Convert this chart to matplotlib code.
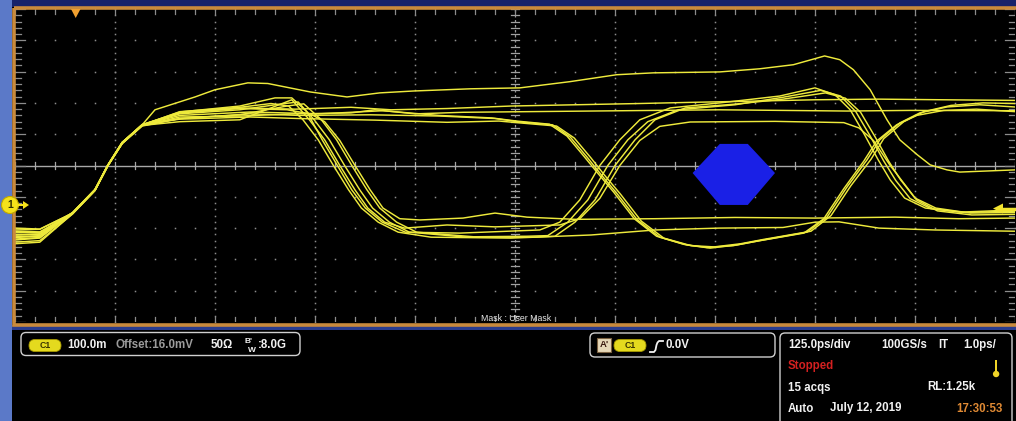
import matplotlib
matplotlib.use("Agg")
import matplotlib.pyplot as plt
from matplotlib.patches import Rectangle, FancyBboxPatch, Circle, Polygon
import numpy as np

# ---------------- data (time in ps, voltage in mV) ----------------
t_top = [0, 31, 72, 100, 116, 134, 159, 175, 225, 250, 291, 316, 369, 415, 456, 498, 569, 631, 694, 752, 798, 881, 931, 973, 1012, 1031, 1048, 1069, 1090, 1106, 1128, 1144, 1165, 1181, 1250]
v_top = [-200, -203, -152, -78, 0, 74, 130, 178, 219, 242, 264, 262, 235, 219, 232, 238, 245, 248, 268, 290, 296, 299, 309, 322, 350, 338, 306, 242, 146, 82, 34, 2, -14, -21, -14]

t_g1a = [0, 31, 72, 100, 116, 134, 159, 206, 281, 325, 346, 365, 384, 403, 421, 438, 459, 488, 556, 656, 681, 706, 731, 756, 781, 819, 881, 956, 1000, 1025, 1044, 1062, 1079, 1094, 1112, 1138, 1181, 1250]
v_g1a = [-238, -232, -152, -78, 0, 72, 130, 171, 190, 216, 216, 171, 82, 0, -78, -136, -181, -213, -216, -206, -181, -110, 0, 82, 146, 184, 200, 222, 248, 226, 178, 98, 18, -46, -104, -136, -149, -142]

t_g1b = [0, 31, 72, 100, 116, 134, 159, 206, 281, 331, 354, 374, 393, 412, 431, 447, 468, 493, 560, 640, 666, 691, 716, 741, 766, 791, 829, 900, 960, 1007, 1032, 1051, 1069, 1086, 1101, 1119, 1145, 1188, 1250]
v_g1b = [-222, -218, -150, -76, 2, 74, 128, 165, 178, 196, 203, 146, 82, 0, -78, -136, -181, -213, -228, -226, -224, -181, -110, 0, 82, 140, 178, 194, 218, 240, 222, 172, 94, 14, -48, -106, -138, -150, -146]

t_g1c = [0, 31, 72, 100, 116, 134, 159, 206, 281, 340, 361, 383, 402, 421, 440, 456, 477, 502, 580, 650, 675, 700, 725, 750, 775, 800, 838, 900, 960, 1013, 1038, 1057, 1075, 1092, 1107, 1125, 1151, 1194, 1250]
v_g1c = [-210, -212, -153, -80, -2, 70, 126, 150, 162, 190, 197, 146, 82, 0, -78, -136, -181, -213, -229, -229, -226, -181, -110, 0, 82, 146, 184, 196, 212, 232, 215, 170, 92, 14, -46, -104, -136, -152, -150]

t_g1f = [0, 31, 72, 100, 116, 134, 159, 206, 281, 326, 346, 368, 387, 406, 425, 441, 462, 487, 540, 600, 681, 706, 731, 756, 781, 806, 844, 950, 1036, 1055, 1073, 1094, 1109, 1127, 1153, 1196, 1250]
v_g1f = [-245, -240, -155, -80, 0, 70, 128, 140, 146, 190, 210, 146, 82, 0, -78, -136, -181, -200, -190, -196, -190, -170, -105, 0, 80, 125, 139, 141, 137, 120, 80, 0, -50, -110, -145, -158, -156]

t_g1d = [0, 31, 72, 100, 116, 134, 159, 206, 281, 340, 369, 387, 406, 425, 444, 460, 481, 506, 560, 600, 640, 700, 800, 900, 1000, 1100, 1180, 1250]
v_g1d = [-230, -226, -151, -77, 1, 73, 131, 168, 182, 178, 165, 140, 80, 0, -78, -136, -170, -174, -168, -152, -165, -172, -170, -166, -168, -165, -170, -168]

t_g1e = [0, 31, 72, 100, 116, 134, 159, 206, 281, 320, 342, 360, 379, 398, 417, 433, 454, 479, 520, 620, 720, 800, 880, 960, 1000, 1030, 1080, 1150, 1250]
v_g1e = [-250, -245, -154, -79, -1, 71, 129, 172, 186, 198, 190, 146, 82, 0, -78, -136, -181, -213, -229, -232, -222, -206, -200, -198, -181, -180, -200, -206, -210]

t_g2a = [0, 31, 72, 100, 116, 134, 159, 206, 294, 356, 444, 531, 600, 631, 672, 694, 715, 731, 752, 778, 806, 840, 869, 902, 931, 990, 1015, 1040, 1065, 1081, 1106, 1131, 1165, 1206, 1250]
v_g2a = [-222, -220, -152, -78, 0, 72, 128, 150, 165, 160, 162, 158, 150, 139, 130, 91, 27, -24, -88, -174, -229, -254, -264, -254, -240, -213, -165, -69, 18, 82, 136, 168, 187, 194, 187]

t_g2b = [0, 31, 72, 100, 116, 134, 159, 206, 294, 356, 450, 540, 605, 636, 677, 699, 720, 736, 757, 783, 811, 845, 874, 907, 936, 995, 1020, 1045, 1070, 1086, 1111, 1136, 1170, 1210, 1250]
v_g2b = [-215, -214, -151, -77, 1, 74, 131, 148, 155, 150, 145, 138, 142, 135, 126, 88, 24, -28, -92, -178, -232, -256, -260, -250, -236, -210, -160, -64, 20, 86, 140, 172, 192, 200, 198]

t_g2c = [0, 31, 72, 100, 116, 134, 159, 206, 294, 380, 460, 530, 596, 627, 668, 690, 711, 727, 748, 774, 802, 836, 865, 898, 927, 986, 1011, 1036, 1061, 1077, 1102, 1127, 1161, 1202, 1250]
v_g2c = [-235, -230, -153, -79, -1, 71, 129, 160, 171, 165, 175, 160, 152, 142, 132, 94, 30, -20, -84, -170, -226, -252, -262, -256, -242, -216, -170, -74, 14, 78, 130, 160, 176, 180, 172]

t_g3a = [0, 31, 72, 100, 116, 134, 159, 206, 281, 350, 420, 470, 540, 620, 700, 780, 850, 930, 1000, 1080, 1160, 1250]
v_g3a = [-206, -204, -152, -78, 0, 73, 130, 168, 184, 180, 186, 178, 182, 190, 194, 198, 202, 206, 210, 212, 210, 208]

t_g3b = [0, 31, 72, 100, 116, 134, 159, 206, 281, 350, 420, 450, 500, 560, 640, 720, 800, 880, 960, 1040, 1120, 1250]
v_g3b = [-228, -224, -152, -78, 0, 72, 128, 155, 158, 165, 168, 178, 165, 170, 172, 174, 176, 178, 176, 174, 176, 175]

traces = [(t_top, v_top), (t_g1a, v_g1a), (t_g1b, v_g1b), (t_g1c, v_g1c),
          (t_g1f, v_g1f), (t_g1d, v_g1d), (t_g1e, v_g1e), (t_g2a, v_g2a),
          (t_g2b, v_g2b), (t_g2c, v_g2c), (t_g3a, v_g3a), (t_g3b, v_g3b)]

mask_t = [847, 881, 916, 950, 916, 881]
mask_v = [-24, 69, 69, -24, -126, -126]

time_per_div = 125.0   # ps
volt_per_div = 100.0   # mV

# ---------------- figure ----------------
W, H = 1016, 421
fig = plt.figure(figsize=(W / 100, H / 100), dpi=100, facecolor="black")
FONT = "Liberation Sans"

bg = fig.add_axes([0, 0, 1, 1], zorder=0)
bg.set_xlim(0, W); bg.set_ylim(H, 0); bg.axis("off")
bg.add_patch(Rectangle((0, 0), W, H, fc="black", ec="none"))
bg.add_patch(Rectangle((0, 0), W, 7, fc="#17226a", ec="none"))
bg.add_patch(Rectangle((0, 0), 12, H, fc="#5b79c8", ec="none"))
bg.add_patch(Rectangle((12, 325), W, 5, fc="#2a3c8e", ec="none"))

# plot area: x 15..1015, y 9..322
px0, px1, py0, py1 = 15, 1015, 9, 322
ax = fig.add_axes([px0 / W, (H - py1) / H, (px1 - px0) / W, (py1 - py0) / H], zorder=1)
ax.set_facecolor("black")
ax.set_xlim(0, 10 * time_per_div)
ax.set_ylim(-5 * volt_per_div, 5 * volt_per_div)
for s in ax.spines.values():
    s.set_visible(False)
ax.set_xticks([]); ax.set_yticks([])

gcol = "#8c8c8c"
tmin, tmax = 0, 10 * time_per_div
vmin, vmax = -5 * volt_per_div, 5 * volt_per_div
minor_t = np.arange(tmin, tmax + 1, time_per_div / 5)
minor_v = np.arange(vmin, vmax + 1, volt_per_div / 5)

# dotted major grid
for k in range(1, 10):
    if k == 5:
        continue
    tx = k * time_per_div
    ax.plot(np.full_like(minor_v, tx), minor_v, ls="none", marker="s", ms=1.1, mew=0, color=gcol, zorder=1)
for k in range(-4, 5):
    if k == 0:
        continue
    vy = k * volt_per_div
    ax.plot(minor_t, np.full_like(minor_t, vy), ls="none", marker="s", ms=1.1, mew=0, color=gcol, zorder=1)

# center cross
ax.axhline(0, color="#a8a8a8", lw=1.0, zorder=1)
ax.plot([625, 625], [vmin, vmax], color="#9a9a9a", lw=0.9, ls=(0, (2, 2)), zorder=1)
for tx in minor_t:
    ax.plot([tx, tx], [-11, 11], color="#a8a8a8", lw=0.9, zorder=1)
for vy in minor_v:
    ax.plot([620, 630], [vy, vy], color="#a0a0a0", lw=0.9, zorder=1)

# edge ticks
for tx in minor_t:
    ax.plot([tx, tx], [vmax, vmax - 16], color=gcol, lw=0.9, zorder=1)
    ax.plot([tx, tx], [vmin, vmin + 16], color=gcol, lw=0.9, zorder=1)
for vy in minor_v:
    major = abs(vy / volt_per_div - round(vy / volt_per_div)) < 1e-6
    L = 13 if major else 8
    ax.plot([tmin, tmin + L], [vy, vy], color=gcol, lw=0.9, zorder=1)
    ax.plot([tmax, tmax - L], [vy, vy], color=gcol, lw=0.9, zorder=1)

# mask
ax.add_patch(Polygon(list(zip(mask_t, mask_v)), closed=True, fc="#1a20e6", ec="none", zorder=2))

# traces
for tt, vv in traces:
    ax.plot(tt, vv, color="#eeea3c", lw=1.05, zorder=3, solid_joinstyle="round")

# ---------------- overlay ----------------
ov = fig.add_axes([0, 0, 1, 1], zorder=3)
ov.set_xlim(0, W); ov.set_ylim(H, 0); ov.axis("off")
ov.patch.set_alpha(0)

# orange border
ov.add_patch(Rectangle((13.5, 7.5), W, 317, fill=False, ec="#c98a3c", lw=2.6))

# trigger position marker (top)
ov.add_patch(Polygon([(71, 9), (80.5, 9), (75.7, 18)], closed=True, fc="#f0a030", ec="none"))
# trigger level marker (right)
ov.add_patch(Polygon([(993, 208.5), (1003, 203.5), (1003, 213.5)], closed=True, fc="#f2e430", ec="none"))
ov.plot([1002, 1016], [208.5, 208.5], color="#f2e430", lw=2.5)
# channel ground marker (left)
ov.add_patch(Circle((10, 205), 8.5, fc="#f5e21a", ec="#c0a800", lw=0.8))
ov.text(10, 205.5, "1", ha="center", va="center", fontsize=7.5, fontweight="bold", color="#303000", family=FONT)
ov.plot([18.5, 24], [205, 205], color="#f5e21a", lw=1.5)
ov.add_patch(Polygon([(23, 201), (23, 209), (29, 205)], closed=True, fc="#f5e21a", ec="none"))

ov.text(516, 318.5, "Mask : User Mask", ha="center", va="center", fontsize=6.3, color="#e8e8e8", family=FONT)

# ---- bottom panel boxes ----
def rbox(x, y, w, h):
    ov.add_patch(FancyBboxPatch((x, y), w, h, boxstyle="round,pad=0,rounding_size=5",
                                fc="black", ec="#d0d0d0", lw=1.0))

def pill(x, y, w, h):
    ov.add_patch(FancyBboxPatch((x, y), w, h, boxstyle="round,pad=0,rounding_size=%g" % (h / 2),
                                fc="#e4da1e", ec="#a89a00", lw=0.6))
    ov.text(x + w / 2, y + h / 2 + 0.5, "C1", ha="center", va="center", fontsize=6.3,
            fontweight="bold", color="#3a3400", family=FONT)

white = "#f2f2f2"
fs = 8.3

rbox(21, 332.5, 279, 23)
pill(29, 339.5, 32, 12)
ov.text(67, 345.5, "100.0m", ha="left", va="center", fontsize=fs, fontweight="bold", color=white, family=FONT)
ov.text(116, 345.5, "Offset:16.0mV", ha="left", va="center", fontsize=fs, fontweight="bold", color="#9c9c9c", family=FONT)
ov.text(211, 345.5, "50Ω", ha="left", va="center", fontsize=fs, fontweight="bold", color=white, family=FONT)
ov.text(244.5, 341.5, "B'", ha="left", va="center", fontsize=6.0, fontweight="bold", color=white, family=FONT)
ov.text(247.5, 350, "W", ha="left", va="center", fontsize=6.0, fontweight="bold", color=white, family=FONT)
ov.text(257.5, 345.5, ":8.0G", ha="left", va="center", fontsize=fs, fontweight="bold", color=white, family=FONT)

rbox(590, 333, 185, 24)
ov.add_patch(Rectangle((597, 337.5), 14, 14, fc="#e6d8b8", ec="#7a6040", lw=0.8))
ov.text(604, 344.8, "A'", ha="center", va="center", fontsize=6.8, fontweight="bold", color="#3a1a10", family=FONT)
pill(614, 339.5, 32, 12)
ov.plot([650, 654, 655.5, 656.5, 657.5, 659, 663], [352, 352, 350, 345, 342.5, 341, 341],
        color=white, lw=1.3)
ov.text(666, 345.5, "0.0V", ha="left", va="center", fontsize=fs, fontweight="bold", color=white, family=FONT)

rbox(780, 333, 232, 100)
ov.text(788, 345, "125.0ps/div", ha="left", va="center", fontsize=fs, fontweight="bold", color=white, family=FONT)
ov.text(881, 345, "100GS/s", ha="left", va="center", fontsize=fs, fontweight="bold", color=white, family=FONT)
ov.text(938, 345, "IT", ha="left", va="center", fontsize=fs, fontweight="bold", color=white, family=FONT)
ov.text(963, 345, "1.0ps/", ha="left", va="center", fontsize=fs, fontweight="bold", color=white, family=FONT)
ov.text(788, 366.5, "Stopped", ha="left", va="center", fontsize=fs, fontweight="bold", color="#d42020", family=FONT)
ov.add_patch(Rectangle((994.8, 360), 2.6, 12, fc="#f0d428", ec="none"))
ov.add_patch(Circle((996.1, 374), 3.2, fc="#f0d428", ec="none"))
ov.text(788, 387.5, "15 acqs", ha="left", va="center", fontsize=fs, fontweight="bold", color=white, family=FONT)
ov.text(927, 387.5, "RL:1.25k", ha="left", va="center", fontsize=fs, fontweight="bold", color=white, family=FONT)
ov.text(788, 408.5, "Auto", ha="left", va="center", fontsize=fs, fontweight="bold", color=white, family=FONT)
ov.text(830, 408.5, "July 12, 2019", ha="left", va="center", fontsize=fs, fontweight="bold", color=white, family=FONT)
ov.text(956, 408.5, "17:30:53", ha="left", va="center", fontsize=fs, fontweight="bold", color="#e08a34", family=FONT)

fig.savefig("out.png", dpi=100, facecolor="black")
